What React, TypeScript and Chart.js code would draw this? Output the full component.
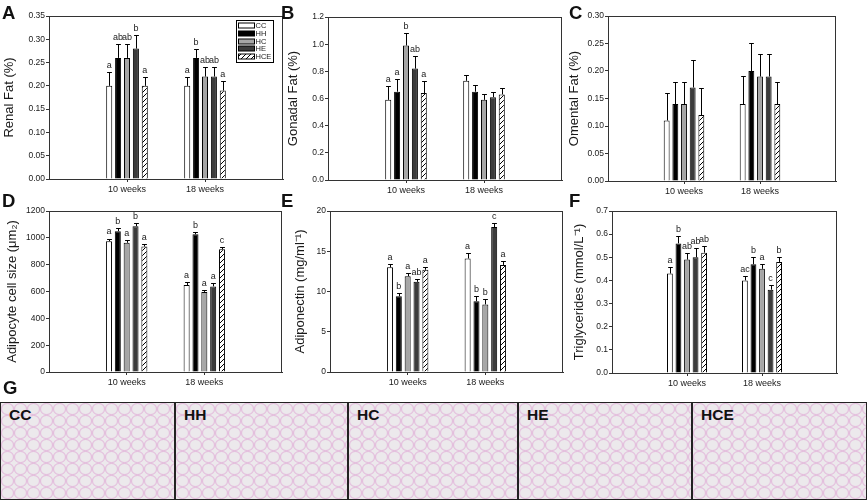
import { useEffect, useRef } from "react";
import { Chart, registerables } from "chart.js";

Chart.register(...registerables);

const FONT = '"Liberation Sans", Arial, Helvetica, sans-serif';
Chart.defaults.font.family = FONT;
Chart.defaults.color = "#1a1a1a";

const weeks = ["10 weeks", "18 weeks"];
const weekPos = [1, 2];
const groups = ["CC", "HH", "HC", "HE", "HCE"];

// every table is per group (CC, HH, HC, HE, HCE): [10 weeks, 18 weeks]
const renalMean = [[0.2, 0.2], [0.26, 0.26], [0.26, 0.22], [0.28, 0.22], [0.2, 0.19]];
const renalSe = [[0.03, 0.02], [0.03, 0.02], [0.03, 0.02], [0.03, 0.02], [0.02, 0.02]];
const renalLetters = [["a", "a"], ["ab", "b"], ["ab", "ab"], ["b", "ab"], ["a", "a"]];
const renalTicks = ["0.00", "0.05", "0.10", "0.15", "0.20", "0.25", "0.30", "0.35"];

const gonadalMean = [[0.59, 0.73], [0.65, 0.65], [0.99, 0.59], [0.82, 0.61], [0.64, 0.63]];
const gonadalSe = [[0.1, 0.04], [0.09, 0.05], [0.09, 0.04], [0.09, 0.04], [0.09, 0.05]];
const gonadalLetters = [["a", ""], ["a", ""], ["b", ""], ["ab", ""], ["a", ""]];
const gonadalTicks = ["0.0", "0.2", "0.4", "0.6", "0.8", "1.0", "1.2"];

const omentalMean = [[0.11, 0.14], [0.14, 0.2], [0.14, 0.19], [0.17, 0.19], [0.12, 0.14]];
const omentalSe = [[0.05, 0.05], [0.04, 0.05], [0.04, 0.04], [0.05, 0.04], [0.05, 0.04]];
const omentalTicks = ["0.00", "0.05", "0.10", "0.15", "0.20", "0.25", "0.30"];

const cellMean = [[975, 648], [1050, 1027], [963, 597], [1087, 638], [935, 914]];
const cellSe = [[20, 24], [20, 19], [19, 17], [20, 22], [17, 17]];
const cellLetters = [["a", "a"], ["b", "b"], ["a", "a"], ["b", "a"], ["a", "c"]];
const cellTicks = ["0", "200", "400", "600", "800", "1000", "1200"];

const adipoMean = [[13.0, 14.1], [9.4, 8.8], [11.9, 8.4], [11.2, 18.0], [12.7, 13.3]];
const adipoSe = [[0.4, 0.7], [0.4, 0.7], [0.4, 0.7], [0.4, 0.5], [0.4, 0.5]];
const adipoLetters = [["a", "a"], ["b", "b"], ["a", "b"], ["ab", "c"], ["a", "a"]];
const adipoTicks = ["0", "5", "10", "15", "20"];

const trigMean = [[0.43, 0.4], [0.56, 0.47], [0.49, 0.45], [0.5, 0.36], [0.52, 0.48]];
const trigSe = [[0.03, 0.02], [0.03, 0.03], [0.03, 0.02], [0.04, 0.02], [0.03, 0.02]];
const trigLetters = [["a", "ac"], ["b", "b"], ["ab", "a"], ["ab", "c"], ["ab", "b"]];
const trigTicks = ["0.0", "0.1", "0.2", "0.3", "0.4", "0.5", "0.6", "0.7"];

const slideEdges = [0, 175, 348, 518, 692, 867];

function hatch(): CanvasPattern | string {
  const s = 5;
  const cv = document.createElement("canvas");
  cv.width = s;
  cv.height = s;
  const g = cv.getContext("2d");
  if (!g) return "#fff";
  g.fillStyle = "#fff";
  g.fillRect(0, 0, s, s);
  g.strokeStyle = "#000";
  g.lineWidth = 1;
  g.beginPath();
  g.moveTo(0, s);
  g.lineTo(s, 0);
  g.moveTo(-1, 1);
  g.lineTo(1, -1);
  g.moveTo(s - 1, s + 1);
  g.lineTo(s + 1, s - 1);
  g.stroke();
  return g.createPattern(cv, "repeat") ?? "#fff";
}

interface Box {
  left: number;
  top: number;
  width: number;
  height: number;
  axisW: number;
  padTop: number;
  padRight: number;
  axisH: number;
}

interface PanelProps {
  title: string;
  mean: number[][];
  se: number[][];
  letters?: string[][];
  ticks: string[];
  legend?: boolean;
  box: Box;
}

function BarPanel({ title, mean, se, letters, ticks, legend = false, box }: PanelProps) {
  const ref = useRef<HTMLCanvasElement>(null);

  useEffect(() => {
    if (!ref.current) return;
    const fills: any[] = ["#ffffff", "#000000", "#a6a6a6", "#3c3c3c", hatch()];

    const extras = {
      id: "extras",
      afterDatasetsDraw(c: any) {
        const { ctx, chartArea: a } = c;
        const y = c.scales.y;
        ctx.save();
        ctx.strokeStyle = "#333";
        ctx.lineWidth = 1;
        ctx.strokeRect(Math.round(a.left) + 0.5, Math.round(a.top) + 0.5, Math.round(a.right - a.left) - 1, Math.round(a.bottom - a.top));

        ctx.strokeStyle = "#000";
        ctx.fillStyle = "#1a1a1a";
        ctx.font = `9px ${FONT}`;
        ctx.textAlign = "center";
        ctx.textBaseline = "bottom";
        groups.forEach((_, gi) => {
          const meta = c.getDatasetMeta(gi);
          meta.data.forEach((el: any, wi: number) => {
            const top = y.getPixelForValue(mean[gi][wi] + se[gi][wi]);
            const x = Math.round(el.x) + 0.5;
            const cap = Math.max(2, el.width * 0.4);
            ctx.beginPath();
            ctx.moveTo(x, el.y);
            ctx.lineTo(x, Math.round(top) + 0.5);
            ctx.moveTo(x - cap, Math.round(top) + 0.5);
            ctx.lineTo(x + cap, Math.round(top) + 0.5);
            ctx.stroke();
            const t = letters?.[gi]?.[wi];
            if (t) ctx.fillText(t, el.x, top - 2);
          });
        });

        if (legend) {
          const w = 37;
          const h = 42;
          const lx = Math.round(a.right - 10 - w) + 0.5;
          const ly = Math.round(a.top + 4) + 0.5;
          ctx.strokeStyle = "#000";
          ctx.fillStyle = "#fff";
          ctx.fillRect(lx, ly, w, h);
          ctx.strokeRect(lx, ly, w, h);
          ctx.font = `7.5px ${FONT}`;
          ctx.textAlign = "left";
          ctx.textBaseline = "middle";
          groups.forEach((g, gi) => {
            const cy = ly + 5 + gi * 7.8;
            ctx.fillStyle = fills[gi];
            ctx.fillRect(lx + 2, Math.round(cy - 2.5), 16, 5);
            ctx.strokeRect(lx + 2, Math.round(cy - 2.5), 16, 5);
            ctx.fillStyle = "#1a1a1a";
            ctx.fillText(g, lx + 19, cy + 0.5);
          });
        }
        ctx.restore();
      },
    };

    const chart = new Chart(ref.current, {
      type: "bar",
      data: {
        datasets: groups.map((g, gi) => ({
          label: g,
          data: weekPos.map((x, wi) => ({ x, y: mean[gi][wi] })),
          backgroundColor: fills[gi],
          borderColor: "#000",
          borderWidth: 1,
          categoryPercentage: 0.57,
          barPercentage: 0.68,
        })),
      } as any,
      options: {
        responsive: true,
        maintainAspectRatio: false,
        animation: false,
        layout: { padding: { left: 0, top: box.padTop, right: box.padRight, bottom: 0 } },
        plugins: { legend: { display: false }, tooltip: { enabled: false } },
        scales: {
          x: {
            type: "linear",
            min: 0,
            max: 3,
            offset: false,
            grid: { display: true, offset: false, drawOnChartArea: false, drawTicks: true, tickLength: 3, color: "#333" },
            border: { display: true, color: "#333" },
            afterBuildTicks: (s: any) => {
              s.ticks = weekPos.map((v) => ({ value: v }));
            },
            afterFit: (s: any) => {
              s.height = box.axisH;
            },
            ticks: {
              autoSkip: false,
              maxRotation: 0,
              padding: 2,
              font: { size: 9 },
              color: "#1a1a1a",
              callback: (_v: any, i: number) => weeks[i],
            },
          },
          y: {
            min: 0,
            max: Number(ticks[ticks.length - 1]),
            grid: { display: true, drawOnChartArea: false, drawTicks: true, tickLength: 3, color: "#333" },
            border: { display: true, color: "#333" },
            afterBuildTicks: (s: any) => {
              s.ticks = ticks.map((t) => ({ value: Number(t) }));
            },
            afterFit: (s: any) => {
              s.width = box.axisW;
            },
            ticks: {
              autoSkip: false,
              padding: 1,
              font: { size: 8.5 },
              color: "#1a1a1a",
              callback: (_v: any, i: number) => ticks[i],
            },
            title: {
              display: true,
              text: title,
              font: { size: 13 },
              color: "#1a1a1a",
              padding: { top: 2, bottom: 0 },
            },
          },
        },
      } as any,
      plugins: [extras],
    });
    return () => chart.destroy();
  }, []);

  return (
    <div style={{ position: "absolute", left: box.left, top: box.top, width: box.width, height: box.height }}>
      <canvas ref={ref} />
    </div>
  );
}

const letterStyle = (left: number, top: number): any => ({
  position: "absolute",
  left,
  top,
  fontSize: 18.5,
  lineHeight: 1,
  fontWeight: "bold",
  color: "#111",
});

export default function App() {
  return (
    <div
      style={{
        position: "absolute",
        left: 0,
        top: 0,
        width: 867,
        height: 500,
        background: "#fff",
        overflow: "hidden",
        fontFamily: FONT,
      }}
    >
      <BarPanel
        title="Renal Fat (%)"
        mean={renalMean}
        se={renalSe}
        letters={renalLetters}
        ticks={renalTicks}
        legend
        box={{ left: 0, top: 0, width: 290, height: 196, axisW: 49, padTop: 16, padRight: 7, axisH: 17 }}
      />
      <BarPanel
        title="Gonadal Fat (%)"
        mean={gonadalMean}
        se={gonadalSe}
        letters={gonadalLetters}
        ticks={gonadalTicks}
        box={{ left: 284, top: 0, width: 286, height: 196, axisW: 44, padTop: 17, padRight: 8, axisH: 16 }}
      />
      <BarPanel
        title="Omental Fat (%)"
        mean={omentalMean}
        se={omentalSe}
        ticks={omentalTicks}
        box={{ left: 565, top: 0, width: 302, height: 196, axisW: 43, padTop: 16, padRight: 31, axisH: 15 }}
      />
      <BarPanel
        title="Adipocyte cell size (μm₂)"
        mean={cellMean}
        se={cellSe}
        letters={cellLetters}
        ticks={cellTicks}
        box={{ left: 3, top: 190, width: 287, height: 200, axisW: 46, padTop: 21, padRight: 8, axisH: 18 }}
      />
      <BarPanel
        title="Adiponectin (mg/ml⁻¹)"
        mean={adipoMean}
        se={adipoSe}
        letters={adipoLetters}
        ticks={adipoTicks}
        box={{ left: 291, top: 190, width: 280, height: 200, axisW: 39, padTop: 21, padRight: 8, axisH: 18 }}
      />
      <BarPanel
        title="Triglycerides (mmol/L⁻¹)"
        mean={trigMean}
        se={trigSe}
        letters={trigLetters}
        ticks={trigTicks}
        box={{ left: 570, top: 190, width: 297, height: 200, axisW: 42, padTop: 21, padRight: 30, axisH: 17 }}
      />

      <div style={letterStyle(2, 4)}>A</div>
      <div style={letterStyle(281, 4)}>B</div>
      <div style={letterStyle(569, 4)}>C</div>
      <div style={letterStyle(2, 192)}>D</div>
      <div style={letterStyle(281, 192)}>E</div>
      <div style={letterStyle(569, 192)}>F</div>
      <div style={letterStyle(3, 379)}>G</div>

      {groups.map((g, i) => (
        <div
          key={g}
          style={{
            position: "absolute",
            left: slideEdges[i],
            top: 402,
            width: slideEdges[i + 1] - slideEdges[i],
            height: 98,
            boxSizing: "border-box",
            border: "1px solid #222",
            backgroundColor: "#ece9ec",
            backgroundImage:
              "radial-gradient(ellipse at center, rgba(255,255,255,0) 52%, rgba(214,120,196,0.38) 66%, rgba(255,255,255,0) 78%)",
            backgroundSize: "13px 12px",
          }}
        >
          <div style={{ position: "absolute", left: 8, top: 4, fontSize: 15.5, lineHeight: 1, fontWeight: "bold", color: "#111" }}>
            {g}
          </div>
        </div>
      ))}
    </div>
  );
}
